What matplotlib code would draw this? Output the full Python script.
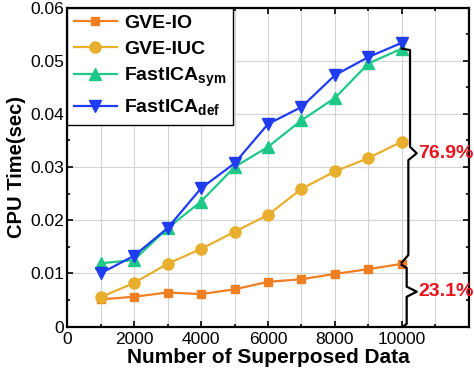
import matplotlib
matplotlib.use("Agg")
import matplotlib.pyplot as plt
from matplotlib.ticker import MultipleLocator

plt.rcParams['font.family'] = ['Liberation Sans', 'DejaVu Sans']
plt.rcParams['mathtext.fontset'] = 'custom'
plt.rcParams['mathtext.bf'] = 'Liberation Sans:bold'
plt.rcParams['mathtext.rm'] = 'Liberation Sans:bold'

# data
n_data = [1000, 2000, 3000, 4000, 5000, 6000, 7000, 8000, 9000, 10000]
gve_io = [0.0051, 0.0056, 0.0064, 0.0061, 0.0070, 0.0084, 0.0089, 0.0099, 0.0108, 0.0118]
gve_iuc = [0.0055, 0.0082, 0.0118, 0.0146, 0.0178, 0.0210, 0.0259, 0.0292, 0.0317, 0.0348]
fastica_sym = [0.0119, 0.0125, 0.0185, 0.0235, 0.0300, 0.0338, 0.0388, 0.0430, 0.0495, 0.0523]
fastica_def = [0.0100, 0.0133, 0.0185, 0.0260, 0.0307, 0.0381, 0.0413, 0.0473, 0.0507, 0.0534]
labels = ['GVE-IO', 'GVE-IUC', r'FastICA$_{\mathbf{sym}}$', r'FastICA$_{\mathbf{def}}$']
pct_labels = ['76.9%', '23.1%']

fig = plt.figure(figsize=(4.74, 3.81), dpi=100)
ax = fig.add_axes([0.1414, 0.143, 0.848, 0.837])

ax.plot(n_data, gve_io, color='#f07f22', marker='s', ms=6, lw=1.6, label=labels[0])
ax.plot(n_data, gve_iuc, color='#e8ae2e', marker='o', ms=8, lw=1.6, label=labels[1])
ax.plot(n_data, fastica_sym, color='#1ec987', marker='^', ms=8, lw=1.6, label=labels[2])
ax.plot(n_data, fastica_def, color='#1f3cf0', marker='v', ms=9, lw=1.6, label=labels[3])

ax.set_xlim(0, 12000)
ax.set_ylim(0, 0.06)
ax.xaxis.set_major_locator(MultipleLocator(2000))
ax.xaxis.set_minor_locator(MultipleLocator(1000))
ax.yaxis.set_major_locator(MultipleLocator(0.01))
ax.yaxis.set_minor_locator(MultipleLocator(0.005))
ax.set_xticks([0, 2000, 4000, 6000, 8000, 10000])
ax.set_xticklabels(['0', '2000', '4000', '6000', '8000', '10000'])
ax.set_yticks([0, 0.01, 0.02, 0.03, 0.04, 0.05, 0.06])
ax.set_yticklabels(['0', '0.01', '0.02', '0.03', '0.04', '0.05', '0.06'])
ax.tick_params(which='both', direction='in', top=True, right=True, labelsize=12.5, width=1.2)
ax.tick_params(which='major', length=4, pad=4)
ax.tick_params(which='minor', length=2.5)
ax.tick_params(axis='y', pad=2)

ax.grid(True, which='both', axis='x', color='#d4d4d4', lw=0.8)
ax.grid(True, which='major', axis='y', color='#d4d4d4', lw=0.8)
ax.set_axisbelow(True)
for s in ax.spines.values():
    s.set_linewidth(1.6)

ax.set_xlabel('Number of Superposed Data', fontsize=15, fontweight='bold', labelpad=1)
ax.set_ylabel('CPU Time(sec)', fontsize=14.5, fontweight='bold', labelpad=3)

leg = ax.legend(loc='upper left', borderaxespad=0, fancybox=False, edgecolor='black',
                prop={'size': 14, 'weight': 'bold'}, handlelength=2.2,
                labelspacing=0.42, handletextpad=0.4, borderpad=0.35)
leg.get_frame().set_linewidth(1.0)
leg.get_frame().set_alpha(1)

# braces on the right of the last points
top_brace_x = [9990, 10240, 10240, 10440, 10190, 10190, 9990]
top_brace_y = [0.0523, 0.0520, 0.0338, 0.0326, 0.0313, 0.01345, 0.0120]
low_brace_x = [9990, 10140, 10140, 10440, 10140, 10140, 10030]
low_brace_y = [0.0116, 0.0110, 0.0075, 0.00655, 0.0056, 0.0005, 0.0]
ax.plot(top_brace_x, top_brace_y, color='black', lw=1.6, clip_on=False, zorder=5)
ax.plot(low_brace_x, low_brace_y, color='black', lw=1.6, clip_on=False, zorder=5)

ax.text(10480, 0.0326, pct_labels[0], color='#e8141e', fontsize=14, fontweight='bold',
        va='center', ha='left', clip_on=False)
ax.text(10480, 0.00655, pct_labels[1], color='#e8141e', fontsize=14, fontweight='bold',
        va='center', ha='left', clip_on=False)

fig.savefig('out.png', dpi=100)
